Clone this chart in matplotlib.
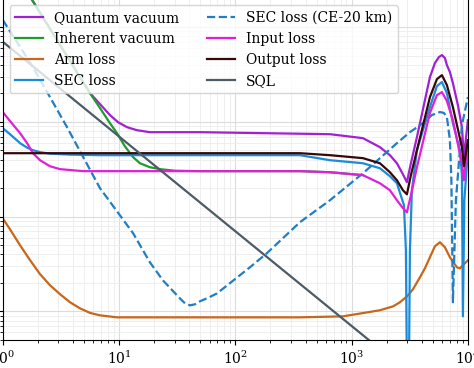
"""Quantum noise budget: contributions to strain ASD vs frequency."""

import matplotlib

matplotlib.use("Agg")

import matplotlib.pyplot as plt

# --- data (frequency in Hz, ASD in 1/sqrt(Hz)) ---
qv_freq = [1.0, 1.79, 5.62, 6.85, 8.35, 9.78, 11.7, 14.2, 18.4, 49.5, 649, 1246,
           1743, 2125, 2441, 2748, 2974, 3219, 3625, 4688, 5175, 5601, 5944,
           6306, 6561, 6963, 7389, 8157, 8831, 9186, 9940]
qv_asd = [6.2e-23, 1.93e-23, 2.01e-24, 1.54e-24, 1.18e-24, 9.93e-25, 8.79e-25,
          8.17e-25, 7.78e-25, 7.78e-25, 7.41e-25, 6.73e-25, 5.41e-25, 4.45e-25,
          3.66e-25, 2.80e-25, 2.31e-25, 3.66e-25, 6.89e-25, 2.96e-24, 4.17e-24,
          4.82e-24, 5.06e-24, 4.71e-24, 3.97e-24, 3.35e-24, 2.56e-24, 1.50e-24,
          8.79e-25, 4.24e-25, 1.04e-24]

iv_freq = [1.0, 1.79, 5.62, 6.85, 8.35, 9.59, 11.2, 13.2, 15.1, 18.4, 22.5,
           30.3, 49.5, 358, 649, 1246]
iv_asd = [6.2e-23, 1.93e-23, 2.01e-24, 1.40e-24, 9.69e-25, 7.60e-25, 5.54e-25,
          4.24e-25, 3.66e-25, 3.32e-25, 3.17e-25, 3.05e-25, 3.02e-25, 3.02e-25,
          2.94e-25, 2.74e-25]

arm_freq = [1.0, 1.155, 1.41, 1.72, 2.09, 2.55, 3.11, 3.79, 4.61, 5.62, 6.85,
            9.59, 49.5, 358, 838, 1348, 1743, 2255, 2590, 2974, 3350, 3847,
            4245, 4688, 5175, 5713, 6306, 6963, 7999, 8488, 9940]
arm_asd = [9.62e-26, 7.36e-26, 4.99e-26, 3.47e-26, 2.48e-26, 1.89e-26, 1.52e-26,
           1.25e-26, 1.08e-26, 9.66e-27, 9.10e-27, 8.67e-27, 8.67e-27, 8.67e-27,
           8.88e-27, 9.77e-27, 1.03e-26, 1.13e-26, 1.25e-26, 1.44e-26, 1.71e-26,
           2.29e-26, 2.85e-26, 3.73e-26, 4.87e-26, 5.37e-26, 4.76e-26, 3.73e-26,
           2.92e-26, 2.85e-26, 3.47e-26]

sec_freq = [1.0, 1.155, 1.41, 1.62, 1.82, 2.09, 2.55, 3.79, 6.85, 358, 649, 1246,
            1743, 2125, 2441, 2804, 2916, 3034, 3156, 3283, 3625, 4688, 5383,
            5944, 6561, 7389, 8488, 8831, 9005, 9270, 9940]
sec_asd = [8.58e-25, 7.41e-25, 5.96e-25, 5.34e-25, 5.02e-25, 4.79e-25, 4.62e-25,
           4.51e-25, 4.45e-25, 4.45e-25, 3.94e-25, 3.66e-25, 3.24e-25, 2.67e-25,
           2.25e-25, 1.32e-25, 4.42e-26, 1e-28, 4.42e-26, 1.90e-25, 5.02e-25,
           1.43e-24, 2.38e-24, 2.63e-24, 2.01e-24, 9.69e-25, 5.02e-25, 2.74e-25,
           8.88e-27, 1.49e-25, 5.02e-25]

sec20_freq = [1.0, 1.82, 3.57, 6.85, 13.2, 18.4, 23.8, 33.4, 36.8, 40.6, 44.9,
              49.5, 58.0, 69.4, 133, 186, 358, 649, 1246, 2441, 3156, 4082,
              4875, 5713, 6185, 6561, 6963, 7173, 7389, 7838, 8831, 9940]
sec20_asd = [1.19e-23, 3.78e-24, 8.79e-25, 2.0e-25, 6.68e-26, 3.30e-26,
             2.13e-26, 1.37e-26, 1.22e-26, 1.16e-26, 1.19e-26, 1.28e-26,
             1.39e-26, 1.55e-26, 2.92e-26, 4.11e-26, 8.73e-26, 1.49e-25,
             2.87e-25, 5.96e-25, 7.78e-25, 9.69e-25, 1.18e-24, 1.27e-24,
             1.24e-24, 1.12e-24, 6.41e-25, 2.42e-25, 1.25e-26, 1.49e-25,
             9.23e-25, 1.82e-24]

inp_freq = [1.0, 1.155, 1.41, 1.62, 1.82, 2.09, 2.55, 3.11, 4.9, 358, 649, 1246,
            1743, 2125, 2441, 2748, 2974, 3219, 3625, 4688, 5383, 5944, 6561,
            7389, 8831, 9186, 9940]
inp_asd = [1.27e-24, 1.02e-24, 7.60e-25, 5.96e-25, 4.67e-25, 3.94e-25, 3.40e-25,
           3.17e-25, 3.02e-25, 3.02e-25, 2.94e-25, 2.74e-25, 2.25e-25, 1.90e-25,
           1.49e-25, 1.23e-25, 1.11e-25, 1.68e-25, 3.32e-25, 1.24e-24, 1.91e-24,
           2.06e-24, 1.66e-24, 1.04e-24, 3.66e-25, 2.42e-25, 6.41e-25]

out_freq = [1.0, 358, 649, 1246, 1743, 2125, 2441, 2748, 2974, 3219, 3625, 4688,
            5383, 5944, 6561, 7389, 8831, 9186, 9940]
out_asd = [4.67e-25, 4.67e-25, 4.45e-25, 4.14e-25, 3.66e-25, 2.94e-25, 2.42e-25,
           1.90e-25, 1.72e-25, 2.74e-25, 5.02e-25, 1.82e-24, 2.82e-24, 3.11e-24,
           2.44e-24, 1.43e-24, 5.41e-25, 3.40e-25, 6.41e-25]

sql_freq = [1.0, 1e4]
sql_asd = [7.0e-24, 7.0e-28]

SERIES = [
    ("Quantum vacuum", qv_freq, qv_asd, "#a21fd4", "-"),
    ("Inherent vacuum", iv_freq, iv_asd, "#219a2e", "-"),
    ("Arm loss", arm_freq, arm_asd, "#c8661a", "-"),
    ("SEC loss", sec_freq, sec_asd, "#1b8bd9", "-"),
    ("SEC loss (CE-20 km)", sec20_freq, sec20_asd, "#1f7fc2", "--"),
    ("Input loss", inp_freq, inp_asd, "#e01fd9", "-"),
    ("Output loss", out_freq, out_asd, "#360808", "-"),
    ("SQL", sql_freq, sql_asd, "#4d5b66", "-"),
]

plt.rcParams["font.family"] = ["DejaVu Serif"]
plt.rcParams["mathtext.fontset"] = "dejavuserif"
plt.rcParams["font.size"] = 10

W, H = 474, 368
fig = plt.figure(figsize=(W / 100, H / 100), dpi=100)
# the reference is a crop: tick labels on the left and the top spine fall outside
left, right, bottom, top = 2.7, 468.2, 340.0, -1.5
ax = fig.add_axes([left / W, (H - bottom) / H, (right - left) / W, (bottom - top) / H])

for label, freq, asd, color, ls in SERIES:
    ax.loglog(freq, asd, ls, color=color, lw=1.6, label=label)

ax.set_xlim(1, 1e4)
ax.set_ylim(5e-27, 2e-23)
ax.grid(which="major", color="#dcdcdc", lw=0.8)
ax.grid(which="minor", color="#ececec", lw=0.6)
ax.set_axisbelow(True)

ax.legend(loc="upper left", ncol=2, fontsize=10)

fig.savefig("out.png", dpi=100)
